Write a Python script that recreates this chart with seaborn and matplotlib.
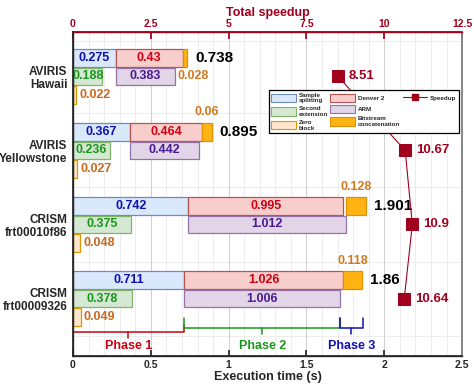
import matplotlib
matplotlib.use("Agg")

import matplotlib.pyplot as plt
import numpy as np
import seaborn as sns
from matplotlib.lines import Line2D
from matplotlib.patches import Patch
from matplotlib.ticker import FormatStrFormatter, MultipleLocator

# ---------------------------------------------------------------------------
# Data (seconds / speedup factor)
# ---------------------------------------------------------------------------
datasets = ["AVIRIS\nHawaii", "AVIRIS\nYellowstone", "CRISM\nfrt00010f86", "CRISM\nfrt00009326"]
sample_splitting = [0.275, 0.367, 0.742, 0.711]
denver2 = [0.43, 0.464, 0.995, 1.026]
second_extension = [0.188, 0.236, 0.375, 0.378]
arm = [0.383, 0.442, 1.012, 1.006]
zero_block = [0.022, 0.027, 0.048, 0.049]
bitstream = [0.028, 0.06, 0.128, 0.118]
total_time = [0.738, 0.895, 1.901, 1.86]
speedup = [8.51, 10.67, 10.9, 10.64]

# ---------------------------------------------------------------------------
# Styles
# ---------------------------------------------------------------------------
STYLE = {
    "Sample\nsplitting":          ("#dae8fc", "#6c8ebf", "#1010b0"),
    "Second\nextension":          ("#d5e8d4", "#82b366", "#1a961a"),
    "Zero\nblock":                ("#ffe6cc", "#d79b00", "#c8691e"),
    "Denver 2":                   ("#f8cecc", "#b85450", "#d00010"),
    "ARM":                        ("#e1d5e7", "#9673a6", "#4a1a90"),
    "Bitstream\nconcatenation":   ("#ffb414", "#e09000", "#d07a20"),
}
SPEED_C = "#a0001e"
BAR_H = 0.95

sns.set_theme(style="white")
plt.rcParams["font.family"] = ["Liberation Sans", "DejaVu Sans"]
plt.rcParams["font.weight"] = "bold"

fig = plt.figure(figsize=(4.74, 3.89), dpi=100)
ax = fig.add_axes([0.154, 0.085, 0.821, 0.833])

base = np.arange(len(datasets)) * 4.0
row1, row2, row3 = base, base + 1, base + 2

ss = np.array(sample_splitting)
d2 = np.array(denver2)
se = np.array(second_extension)
ar = np.array(arm)
zb = np.array(zero_block)
bs = np.array(bitstream)
bs_left = np.maximum(ss + d2, ss + ar)


def hbar(y, width, left, key):
    face, edge, _ = STYLE[key]
    sns.barplot(
        x=width, y=y, orient="y", native_scale=True, errorbar=None,
        width=BAR_H / 4, left=left, color=face, edgecolor=edge,
        linewidth=0.9, saturation=1, ax=ax,
    )


hbar(row1, ss, np.zeros(4), "Sample\nsplitting")
hbar(row1, d2, ss, "Denver 2")
hbar(row1, bs, bs_left, "Bitstream\nconcatenation")
hbar(row2, se, np.zeros(4), "Second\nextension")
hbar(row2, ar, ss, "ARM")
hbar(row3, zb, np.zeros(4), "Zero\nblock")

# value labels
fs = 9
for i in range(len(datasets)):
    ax.text(ss[i] / 2, row1[i], f"{ss[i]:g}", ha="center", va="center", fontsize=fs,
            color=STYLE["Sample\nsplitting"][2], fontweight="bold")
    ax.text(ss[i] + d2[i] / 2, row1[i], f"{d2[i]:g}", ha="center", va="center", fontsize=fs,
            color=STYLE["Denver 2"][2], fontweight="bold")
    ax.text(se[i] / 2, row2[i], f"{se[i]:g}", ha="center", va="center", fontsize=fs,
            color=STYLE["Second\nextension"][2], fontweight="bold")
    ax.text(ss[i] + ar[i] / 2, row2[i], f"{ar[i]:g}", ha="center", va="center", fontsize=fs,
            color=STYLE["ARM"][2], fontweight="bold")
    ax.text(zb[i] + 0.02, row3[i], f"{zb[i]:g}", ha="left", va="center", fontsize=fs,
            color=STYLE["Zero\nblock"][2], fontweight="bold")
    bc = STYLE["Bitstream\nconcatenation"][2]
    if bs[i] < 0.05:
        ax.text(ss[i] + ar[i] + 0.015, row2[i], f"{bs[i]:g}", ha="left", va="center",
                fontsize=fs, color=bc, fontweight="bold")
    else:
        ax.text(bs_left[i] + bs[i] / 2, row1[i] - 1.05, f"{bs[i]:g}", ha="center",
                va="center", fontsize=fs, color=bc, fontweight="bold")
    ax.text(bs_left[i] + bs[i] + 0.05, row1[i], f"{total_time[i]:g}", ha="left",
            va="center", fontsize=11, color="black", fontweight="bold")

# phase braces (based on the last dataset)
p1 = ss[-1]
p2 = ss[-1] + ar[-1]
p3 = total_time[-1]
phases = [
    (0, p1, "#cc0010", 14.8, 14.45, 15.15),
    (p1, p2, "#1a961a", 14.6, 14.05, 14.9),
    (p2, p3, "#1010b0", 14.6, 14.05, 14.9),
]
for x0, x1, col, yh, ye, yt in phases:
    xm = (x0 + x1) / 2
    ax.plot([x0, x0, x1, x1], [ye, yh, yh, ye], color=col, lw=1.1)
    ax.plot([xm, xm], [yh, yt], color=col, lw=1.1)
ax.text(0.355, 15.55, "Phase 1", ha="center", va="center", fontsize=9, color="#cc0010")
ax.text(1.22, 15.55, "Phase 2", ha="center", va="center", fontsize=9, color="#1a961a")
ax.text(1.79, 15.55, "Phase 3", ha="center", va="center", fontsize=9, color="#1010b0")

# axes cosmetics
ax.set_xlim(0, 2.5)
ax.xaxis.set_major_locator(MultipleLocator(0.5))
ax.xaxis.set_minor_locator(MultipleLocator(0.1))
ax.xaxis.set_major_formatter(FormatStrFormatter("%g"))
ax.grid(which="major", axis="x", color="#cfcfcf", lw=0.7)
ax.grid(which="minor", axis="x", color="#e6e6e6", lw=0.5)
for yy in [-0.9, 3, 7, 11, 15]:
    ax.axhline(yy, color="#e6e6e6", lw=0.5, zorder=0)
ax.set_axisbelow(True)
ax.tick_params(axis="x", which="major", direction="in", length=4, labelsize=7.5, pad=3)
ax.tick_params(axis="x", which="minor", direction="in", length=0)
ax.set_yticks(row2)
ax.set_yticklabels(datasets, fontsize=8.5, fontweight="bold", linespacing=1.1)
ax.tick_params(axis="y", length=0, pad=4)
ax.set_xlabel("Execution time (s)", fontsize=9, fontweight="bold", labelpad=1)
ax.set_ylabel("")
for lbl in ax.get_xticklabels():
    lbl.set_fontweight("bold")
for s in ["left", "bottom"]:
    ax.spines[s].set_color("#333333")
    ax.spines[s].set_linewidth(1.0)
ax.spines["right"].set_color("#888888")

# speedup on top axis
ax2 = ax.twiny()
sns.lineplot(x=speedup, y=row2, sort=False, estimator=None, color=SPEED_C,
             lw=0.8, marker="s", markersize=8, markeredgecolor=SPEED_C, ax=ax2)
for i in range(len(speedup)):
    ax2.text(speedup[i] + 0.35, row2[i], f"{speedup[i]:g}", ha="left", va="center",
             fontsize=9.5, color=SPEED_C, fontweight="bold")
ax2.set_xlim(0, 12.5)
ax2.xaxis.set_major_locator(MultipleLocator(2.5))
ax2.xaxis.set_minor_locator(MultipleLocator(0.5))
ax2.xaxis.set_major_formatter(FormatStrFormatter("%g"))
ax2.tick_params(axis="x", which="major", direction="in", length=5, color=SPEED_C,
                labelcolor=SPEED_C, labelsize=7.5, pad=2)
ax2.tick_params(axis="x", which="minor", direction="in", length=0)
for lbl in ax2.get_xticklabels():
    lbl.set_fontweight("bold")
ax2.set_xlabel("Total speedup", fontsize=9, fontweight="bold", color=SPEED_C, labelpad=2)
ax2.set_ylabel("")
ax2.spines["top"].set_color(SPEED_C)
ax2.spines["top"].set_linewidth(1.0)
ax2.spines["right"].set_color("#888888")
ax2.grid(False)

ax.set_ylim(16.1, -1.4)

# legend
handles = []
labels = []
for key in ["Sample\nsplitting", "Second\nextension", "Zero\nblock",
            "Denver 2", "ARM", "Bitstream\nconcatenation"]:
    face, edge, _ = STYLE[key]
    handles.append(Patch(facecolor=face, edgecolor=edge, lw=0.8))
    labels.append(key)
handles.append(Line2D([], [], color=SPEED_C, lw=0.8, marker="s", markersize=5))
labels.append("Speedup")
for _ in range(2):
    handles.append(Patch(visible=False))
    labels.append("")
leg = ax2.legend(handles, labels, ncol=3, loc="upper right",
                 bbox_to_anchor=(1.0, 0.83), fontsize=4.5,
                 handlelength=3.9, handleheight=1.7, labelspacing=0.45,
                 columnspacing=0.4, handletextpad=0.5, borderpad=0.4,
                 frameon=True, fancybox=False, framealpha=1, edgecolor="black")
leg.get_frame().set_linewidth(0.9)

fig.savefig("out.png", dpi=100)
